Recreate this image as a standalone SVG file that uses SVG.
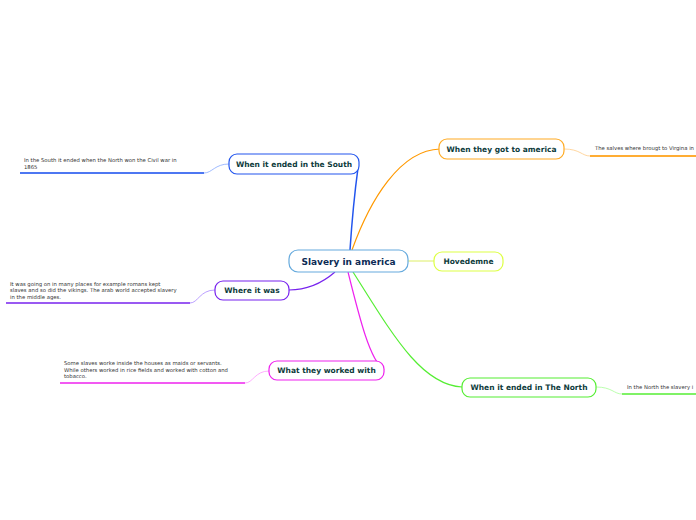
<svg xmlns="http://www.w3.org/2000/svg" width="696" height="520" viewBox="0 0 696 520">
<style>
.n{fill:#fff;stroke-width:1.2}
.t{font-family:"DejaVu Sans",sans-serif;font-weight:bold;font-size:7.5px;fill:#0d3b3b;text-anchor:middle}
.s{font-family:"DejaVu Sans",sans-serif;font-size:5.3px;fill:#333}
path{fill:none}
</style>
<rect width="696" height="520" fill="#fff"/>
<g id="connectors">
<path d="M350 250 C352 220 355 190 358 168" stroke="#2255ee" stroke-width="1.5"/>
<path d="M352 250 C370 200 400 150 440 149" stroke="#ff9900" stroke-width="1.2"/>
<path d="M408 261 L434 261" stroke="#ddee66" stroke-width="1"/>
<path d="M335 272 C320 285 305 290 289 290" stroke="#7722ee" stroke-width="1.2"/>
<path d="M348 272 C360 320 370 360 384 370" stroke="#ee22ee" stroke-width="1.2"/>
<path d="M353 272 C390 330 420 385 462 387" stroke="#55ee33" stroke-width="1.2"/>
<path d="M229 164 C215 164 212 173 204 173 L20 173" stroke="#88aaff" stroke-width="0.8"/>
<path d="M20 173 L204 173" stroke="#2255ee" stroke-width="1.5"/>
<path d="M564 149 C580 149 582 156 590 156 L696 156" stroke="#ffcc88" stroke-width="0.8"/>
<path d="M590 156 L696 156" stroke="#ff9900" stroke-width="1.5"/>
<path d="M215 290 C200 290 198 303 190 303" stroke="#aa88ff" stroke-width="0.8"/>
<path d="M6 303 L190 303" stroke="#7722ee" stroke-width="1.5"/>
<path d="M269 371 C255 371 253 383 245 383" stroke="#ff99ff" stroke-width="0.8"/>
<path d="M60 383 L245 383" stroke="#ee22ee" stroke-width="1.5"/>
<path d="M596 387 C612 387 614 394 622 394" stroke="#aaff99" stroke-width="0.8"/>
<path d="M622 394 L696 394" stroke="#55ee33" stroke-width="1.5"/>
</g>
<g id="center"><rect class="n" x="289" y="250" width="119" height="22" rx="9" stroke="#66aadd"/><text class="t" x="348.5" y="264.5" style="font-size:9px;fill:#0d2b55">Slavery in america</text></g>
<g id="south"><rect class="n" x="229" y="154" width="130" height="20" rx="8" stroke="#2255ee"/><text class="t" x="294" y="167">When it ended in the South</text><text class="s" x="24" y="162">In the South it ended when the North won the Civil war in</text><text class="s" x="24" y="169">1865</text></g>
<g id="got"><rect class="n" x="439" y="139" width="125" height="20" rx="8" stroke="#ffaa22"/><text class="t" x="501.5" y="152">When they got to america</text><text class="s" x="595" y="150">The salves where brougt to Virgina in</text></g>
<g id="hoved"><rect class="n" x="434" y="252" width="69" height="19" rx="8" stroke="#ddff44"/><text class="t" x="468.5" y="264">Hovedemne</text></g>
<g id="where"><rect class="n" x="215" y="281" width="74" height="19" rx="8" stroke="#7722ee"/><text class="t" x="252" y="293">Where it was</text><text class="s" x="10" y="286">It was going on in many places for example romans kept</text><text class="s" x="10" y="292">slaves and so did the vikings. The arab world accepted slavery</text><text class="s" x="10" y="299">in the middle ages.</text></g>
<g id="worked"><rect class="n" x="269" y="361" width="115" height="19" rx="8" stroke="#ee22ee"/><text class="t" x="326.5" y="373">What they worked with</text><text class="s" x="64" y="365">Some slaves worke inside the houses as maids or servants.</text><text class="s" x="64" y="372">While others worked in rice fields and worked with cotton and</text><text class="s" x="64" y="378">tobacco.</text></g>
<g id="north"><rect class="n" x="462" y="378" width="134" height="19" rx="8" stroke="#55ee33"/><text class="t" x="529" y="390">When it ended in The  North</text><text class="s" x="627" y="389">In the North the slavery i</text></g>
</svg>
